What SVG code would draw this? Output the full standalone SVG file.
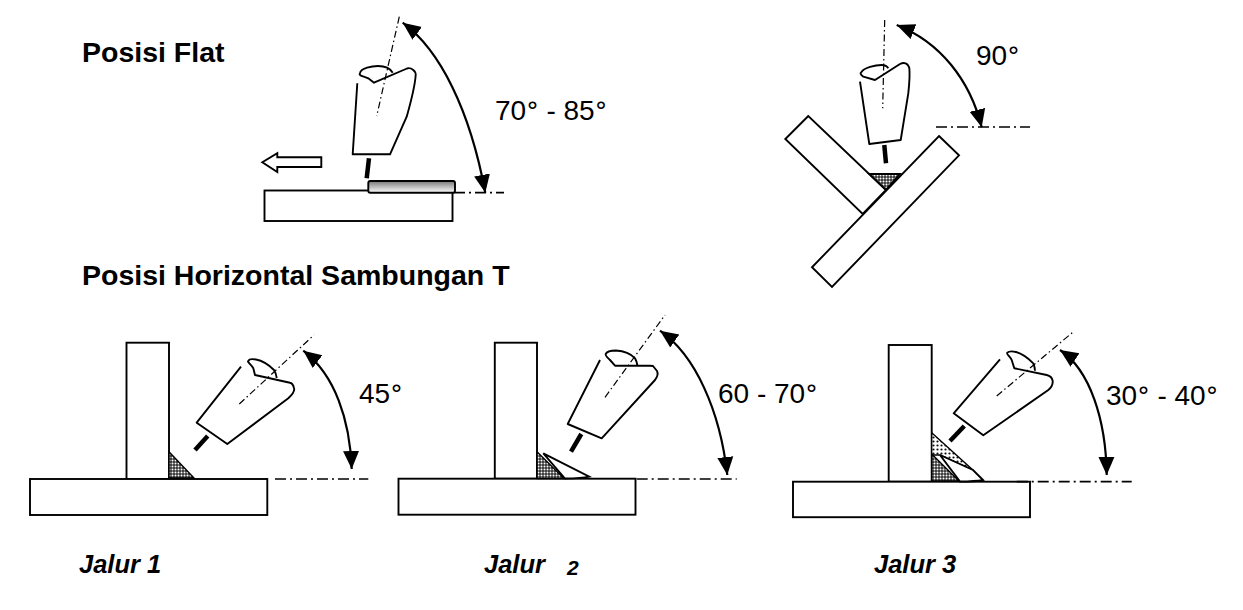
<svg xmlns="http://www.w3.org/2000/svg" width="1243" height="610" viewBox="0 0 1243 610">
<style>
.s{fill:#fff;stroke:#000;stroke-width:1.9}
.t{fill:none;stroke:#000;stroke-width:1.9;stroke-linejoin:round}
.a{fill:none;stroke:#000;stroke-width:1.2;stroke-dasharray:7 3 1.5 3}
.h{fill:none;stroke:#000;stroke-width:1.7;stroke-dasharray:11 4 2 4}
.w{fill:none;stroke:#000;stroke-width:4.5}
.r{fill:none;stroke:#000;stroke-width:2.2;marker-start:url(#ah);marker-end:url(#ah)}
.b{font:bold 28.5px "Liberation Sans",Arial,sans-serif}
.n{font:28px "Liberation Sans",Arial,sans-serif}
.d{font:25px "DejaVu Sans",sans-serif}
.j{font:italic bold 25.5px "Liberation Sans",Arial,sans-serif}
</style>
<defs>
<marker id="ah" markerUnits="userSpaceOnUse" markerWidth="19" markerHeight="18" refX="18" refY="9" orient="auto-start-reverse"><path d="M0,1 L18,9 L0,17 Z" fill="#000"/></marker>
<pattern id="dk" width="3" height="3" patternUnits="userSpaceOnUse"><rect width="3" height="3" fill="#333"/><circle cx="1.5" cy="1.5" r="1" fill="#fff"/></pattern>
<pattern id="lt" width="4" height="4" patternUnits="userSpaceOnUse"><rect width="4" height="4" fill="#fff"/><circle cx="1.5" cy="1.5" r="1.1" fill="#111"/></pattern>
<linearGradient id="bar" x1="0" y1="0" x2="0" y2="1"><stop offset="0" stop-color="#777"/><stop offset="1" stop-color="#fff"/></linearGradient>
</defs>

<g id="title-flat"><text class="b" x="82" y="62">Posisi Flat</text></g>
<g id="title-t"><text class="b" x="82" y="285">Posisi Horizontal Sambungan T</text></g>

<g id="flat">
<rect class="s" x="264.5" y="190.5" width="188" height="30.5"/>
<rect x="368.3" y="181" width="86.7" height="11.7" rx="2" fill="url(#bar)" stroke="#000" stroke-width="1.9"/>
<path class="s" d="M262.3,162.3 L277.3,153.3 V157.3 H321.3 V167 H277.3 V172 Z"/>
<path class="w" d="M369,158.3 L366.7,178.3"/>
<path class="t" d="M357.3,83.3 L352.7,154.3 H390 L406.7,116.7 C412,98 415,85 415.7,75 C416,71 411,67 407,68.5 L374,82.7 L368.3,78.3 C364,76 358,76 360,73 C361,68 372,66 378,66 C386,66 390,68 392.7,72.7"/>
<path class="a" d="M399.3,16.7 L376.7,116"/>
<path class="h" d="M454,192.7 H504"/>
<path class="r" d="M402.7,22.7 C440,50 470,110 485.3,192.7"/>
<text class="n" x="495" y="120">70<tspan class="d">°</tspan> - 85<tspan class="d">°</tspan></text>
</g>

<g id="t-90">
<path class="s" d="M808.3,116 L785.3,139 L862.7,214 L886,190 Z"/>
<path d="M869.3,174 H900 L886,190 Z" fill="url(#dk)" stroke="#000" stroke-width="1.9"/>
<path class="s" d="M939,136 L959,155.3 L832,287 L812,267.3 Z"/>
<path class="w" d="M884.3,145 L886,163.3"/>
<path class="t" d="M860,81.7 L869.3,144 L900.7,140 L908.3,93.3 C909.5,82 910,74 909.3,68 C908,63 904,62 900,64 L875,80 L863.3,76.7 C860,74 860,73 861.7,71.7 C864,68 875,65 881.7,65 C885,65 887,66 888.3,68.3"/>
<path class="a" d="M884.7,20 L882.7,108.3"/>
<path class="h" d="M936,127 H1030"/>
<path class="r" d="M896.7,25 C940,42 970,80 981.7,127.3"/>
<text class="n" x="976" y="65">90<tspan class="d">°</tspan></text>
</g>

<g id="jalur-1">
<rect class="s" x="126.5" y="342.7" width="42.5" height="136.3"/>
<rect class="s" x="30" y="479" width="237.3" height="36"/>
<path d="M169,451.7 L194,478 H169 Z" fill="url(#dk)" stroke="#000" stroke-width="1.4"/>
<path class="w" d="M195,450 L207.7,436"/>
<path class="t" d="M241,366.7 L196.7,422.7 L227.3,444 L288.3,398.3 C293,394 295,391 294,388 C293,384 292,383 290,382.7 L255,375 L253.3,368.3 C251,364 247,362 248.3,361 C249,359 252,358.8 256,359.5 C264,361 270,366 274,370 C276,373 276.5,376 276.7,378"/>
<path class="a" d="M239.3,404 L314,335"/>
<path class="h" d="M275,479 H368.3"/>
<path class="r" d="M303.3,350.7 C335,375 350,420 351.7,469"/>
<text class="n" x="359" y="403">45<tspan class="d">°</tspan></text>
</g>

<g id="jalur-2">
<rect class="s" x="494.8" y="342.7" width="42.2" height="136"/>
<rect class="s" x="398.5" y="478.7" width="237" height="36"/>
<path d="M537,451.7 L564,478.5 H537 Z" fill="url(#dk)" stroke="#000" stroke-width="1.4"/>
<path class="s" d="M543.3,453.3 L589.3,476.7 C582,478.5 574,478.5 565,478.5 Z"/>
<path class="w" d="M571,451.7 L581.3,434"/>
<path class="t" d="M600,360 L567.7,424 L601.7,438.3 L655,380 C658,376 658,373 657,371 L653,366 C652,365.7 651,365.7 650,365.7 H615 L610,360 C607,357 605,355.5 605.7,354 C607,351 611,350.5 616,350.5 C625,351 632,355 635,358.3 C636.5,361 637,363 637.3,365"/>
<path class="a" d="M605,397.3 L665,315"/>
<path class="h" d="M636.7,479 H736.7"/>
<path class="r" d="M660,330.7 C695,355 720,410 727.3,475"/>
<text class="n" x="718" y="403">60 - 70<tspan class="d">°</tspan></text>
</g>

<g id="jalur-3">
<rect class="s" x="888.7" y="345" width="43" height="136.7"/>
<rect class="s" x="793" y="481.7" width="237" height="35.5"/>
<path d="M931.7,432.7 L974,471 L940,455 L931.7,455 Z" fill="url(#lt)" stroke="#000" stroke-width="1.4"/>
<path class="s" d="M940,455 L973,470 L983,480 C975,481.5 968,481.5 960,481.5 Z"/>
<path d="M931.7,454 L959,481 H931.7 Z" fill="url(#dk)" stroke="#000" stroke-width="1.4"/>
<path class="w" d="M950,441 L964.3,426"/>
<path class="t" d="M1000,359.3 L953.7,413.3 L983.3,435.3 L1048.3,390 C1052,387 1053,385 1052.7,381 C1052,377 1049,375.5 1046.7,375 L1014.3,368.3 L1011.7,360 C1010,356 1006,354 1007.3,352.7 C1009,351 1012,351 1016,352 C1023,354 1029,359 1033.3,363.3 C1034.5,366 1034.8,368 1035,370.7"/>
<path class="a" d="M996.7,396 L1074.3,331"/>
<path class="h" d="M1016.7,481.7 H1131.7"/>
<path class="r" d="M1060,350 C1090,370 1106,420 1106.7,475"/>
<text class="n" x="1106" y="405">30<tspan class="d">°</tspan> - 40<tspan class="d">°</tspan></text>
</g>

<g id="labels">
<text class="j" x="79" y="573">Jalur 1</text>
<text class="j" x="484" y="573">Jalur</text>
<text class="j" x="567" y="575" style="font-size:21px">2</text>
<text class="j" x="874" y="573">Jalur 3</text>
</g>
</svg>
